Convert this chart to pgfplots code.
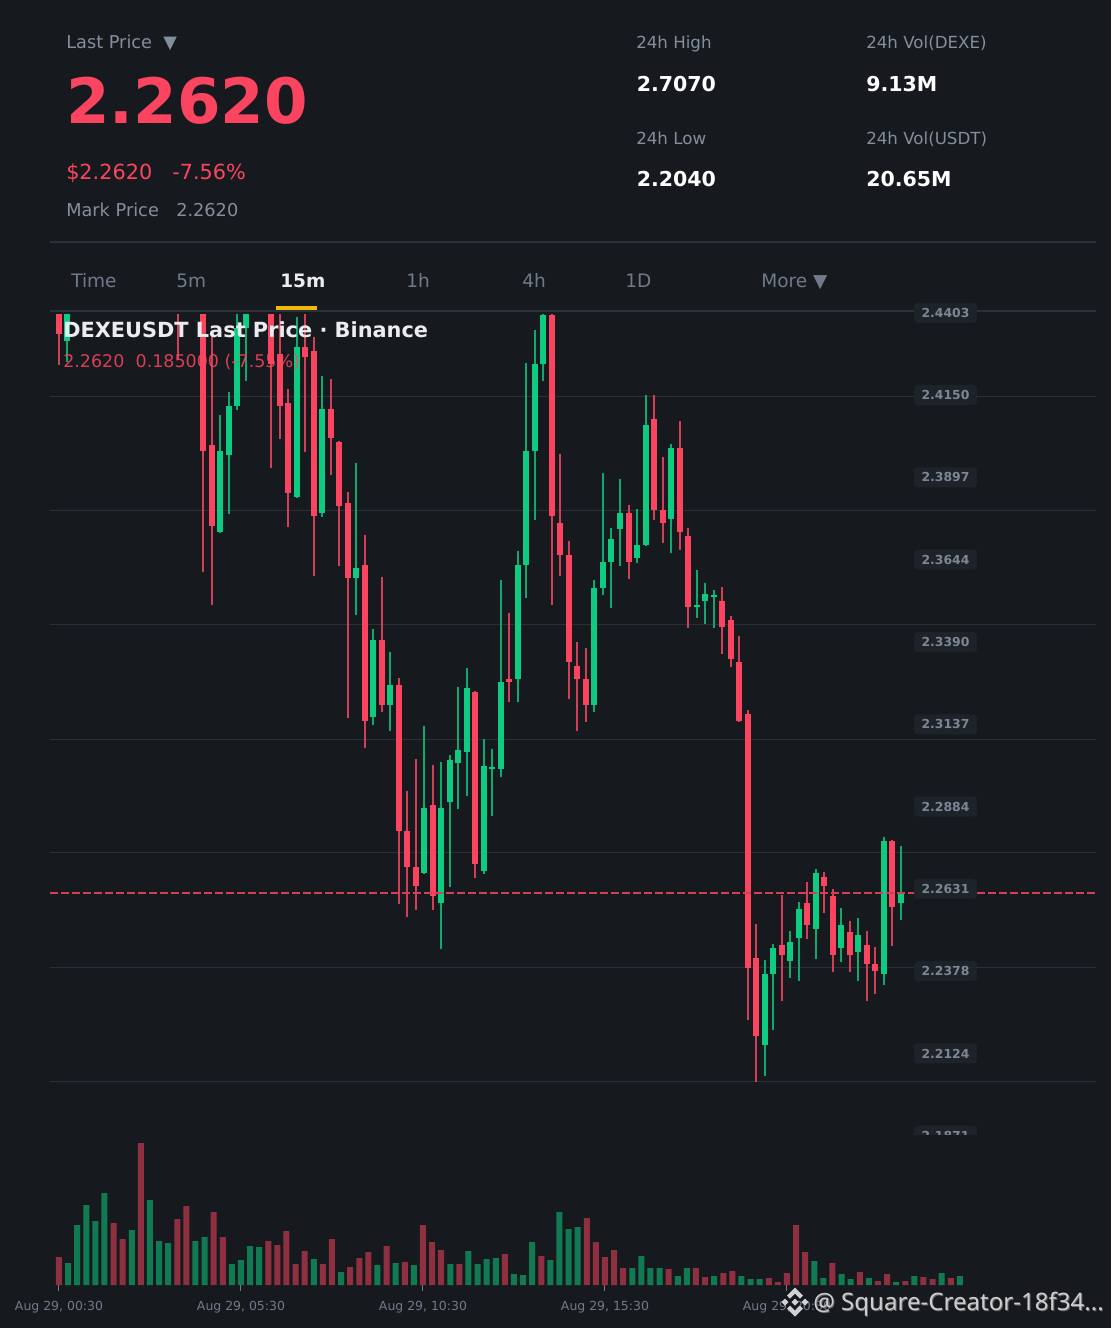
\documentclass[border=0pt]{standalone}
\usepackage{pgfplots}
\usepackage{fontspec}
\setmainfont{DejaVu Sans}
\newfontfamily\wmfont{Noto Sans}
\pgfplotsset{compat=1.18}
\definecolor{bg}{HTML}{161A1E}
\definecolor{gridc}{HTML}{2B2F36}
\definecolor{sep}{HTML}{2B3139}
\definecolor{redc}{HTML}{FB4560}
\definecolor{grnc}{HTML}{0ECB81}
\definecolor{redw}{HTML}{D23F57}
\definecolor{grnw}{HTML}{0FA86D}
\definecolor{redv}{HTML}{8F3041}
\definecolor{grnv}{HTML}{127A52}
\definecolor{gray1}{HTML}{848E9C}
\definecolor{gray2}{HTML}{707A8A}
\definecolor{gray3}{HTML}{7D8694}
\definecolor{labbg}{HTML}{1E2329}
\definecolor{white1}{HTML}{EAECEF}
\definecolor{gold}{HTML}{F0B90B}
\newcommand{\fs}[1]{\fontsize{#1}{#1}\selectfont}
\pgfplotsset{
 wickG/.style={grnw,line width=1.5pt,line cap=butt,mark=none},
 wickR/.style={redw,line width=1.5pt,line cap=butt,mark=none},
 bodyG/.style={grnc,line width=4.5pt,line cap=butt,mark=none},
 bodyR/.style={redc,line width=4.5pt,line cap=butt,mark=none},
 gridl/.style={gridc,line width=0.75pt,mark=none},
}
% index, open, high, low, close
\newcommand{\up}[5]{\addplot[wickG] coordinates {(#1,#4)(#1,#3)};\addplot[bodyG] coordinates {(#1,#2)(#1,#5)};}
\newcommand{\dn}[5]{\addplot[wickR] coordinates {(#1,#4)(#1,#3)};\addplot[bodyR] coordinates {(#1,#2)(#1,#5)};}
\newcommand{\gl}[1]{\addplot[gridl] coordinates {(-1.02,#1)(121.97,#1)};}
\newcommand{\gs}[1]{\addplot[gridl] coordinates {(-1.02,#1)(100.6,#1)};\addplot[gridl] coordinates {(107.9,#1)(121.97,#1)};}
\begin{document}
\begin{tikzpicture}[x=0.75pt,y=-0.75pt]
\path[use as bounding box,fill=bg] (0,0) rectangle (1111,1328);
\draw[sep,line width=1.5pt] (50,311)--(1096,311);
% ---------- candles
\begin{axis}[
 at={(37.5pt,-852.75pt)},anchor=south west,scale only axis,
 width=784.5pt,height=619.5pt,
 xmin=-1.02,xmax=121.97,ymin=2.18669,ymax=2.4409,
 axis line style={draw=none},xtick=\empty,
 ytick={2.1871,2.2124,2.2378,2.2631,2.2884,2.3137,2.3390,2.3644,2.3897,2.4150,2.4403},
 yticklabels={2.1871,2.2124,2.2378,2.2631,2.2884,2.3137,2.3390,2.3644,2.3897,2.4150,2.4403},
 yticklabel pos=right,
 major tick length=0pt,
 y tick label style={anchor=center,xshift=-112.9pt,font=\bfseries\fs{9.3},text=gray3,fill=labbg,rounded corners=2.5pt,inner sep=0pt,minimum width=47.25pt,minimum height=15pt},
]
\gs{2.4147}\gl{2.3795}\gl{2.3444}\gl{2.3091}\gl{2.2741}\gs{2.2389}\gl{2.2037}
\dn{0}{2.4400}{2.4400}{2.4243}{2.4338}
\up{1}{2.4317}{2.4400}{2.4252}{2.4400}
\dn{14}{2.4400}{2.4400}{2.4258}{2.4400}
\dn{17}{2.4400}{2.4400}{2.3606}{2.3978}
\dn{18}{2.3997}{2.4341}{2.3504}{2.3747}
\up{19}{2.3729}{2.4089}{2.3726}{2.3978}
\up{20}{2.3966}{2.4160}{2.3784}{2.4117}
\up{21}{2.4117}{2.4400}{2.4104}{2.4357}
\up{22}{2.4357}{2.4400}{2.4194}{2.4400}
\dn{25}{2.4400}{2.4400}{2.3926}{2.4246}
\dn{26}{2.4277}{2.4400}{2.4015}{2.4117}
\dn{27}{2.4126}{2.4169}{2.3744}{2.3849}
\up{28}{2.3837}{2.4391}{2.3834}{2.4298}
\dn{29}{2.4298}{2.4400}{2.3975}{2.4268}
\dn{30}{2.4286}{2.4329}{2.3594}{2.3778}
\up{31}{2.3787}{2.4209}{2.3775}{2.4108}
\dn{32}{2.4108}{2.4200}{2.3904}{2.4018}
\dn{33}{2.4006}{2.4009}{2.3624}{2.3809}
\dn{34}{2.3818}{2.3852}{2.3157}{2.3587}
\up{35}{2.3587}{2.3941}{2.3474}{2.3618}
\dn{36}{2.3627}{2.3720}{2.3064}{2.3147}
\up{37}{2.3160}{2.3430}{2.3135}{2.3397}
\dn{38}{2.3397}{2.3590}{2.3175}{2.3197}
\up{39}{2.3197}{2.3360}{2.3117}{2.3258}
\dn{40}{2.3258}{2.3280}{2.2584}{2.2809}
\dn{41}{2.2809}{2.2932}{2.2544}{2.2698}
\dn{42}{2.2698}{2.3030}{2.2566}{2.2639}
\up{43}{2.2679}{2.3132}{2.2676}{2.2880}
\dn{44}{2.2889}{2.3012}{2.2566}{2.2609}
\up{45}{2.2587}{2.3021}{2.2445}{2.2880}
\up{46}{2.2898}{2.3043}{2.2636}{2.3027}
\up{47}{2.3018}{2.3252}{2.2876}{2.3058}
\up{48}{2.3052}{2.3310}{2.2916}{2.3249}
\dn{49}{2.3237}{2.3240}{2.2664}{2.2707}
\up{50}{2.2686}{2.3092}{2.2676}{2.3009}
\up{51}{2.3000}{2.3061}{2.2855}{2.3006}
\up{52}{2.3000}{2.3581}{2.2975}{2.3267}
\dn{53}{2.3277}{2.3480}{2.3206}{2.3267}
\up{54}{2.3277}{2.3670}{2.3206}{2.3627}
\up{55}{2.3627}{2.4249}{2.3526}{2.3978}
\up{56}{2.3978}{2.4351}{2.3766}{2.4246}
\up{57}{2.4246}{2.4400}{2.4194}{2.4397}
\dn{58}{2.4397}{2.4400}{2.3504}{2.3778}
\dn{59}{2.3757}{2.3969}{2.3594}{2.3658}
\dn{60}{2.3658}{2.3701}{2.3215}{2.3329}
\dn{61}{2.3317}{2.3391}{2.3117}{2.3277}
\dn{62}{2.3277}{2.3372}{2.3144}{2.3197}
\up{63}{2.3197}{2.3581}{2.3175}{2.3557}
\up{64}{2.3557}{2.3910}{2.3535}{2.3637}
\up{65}{2.3637}{2.3741}{2.3495}{2.3707}
\up{66}{2.3738}{2.3892}{2.3624}{2.3787}
\dn{67}{2.3787}{2.3812}{2.3584}{2.3637}
\up{68}{2.3649}{2.3800}{2.3633}{2.3689}
\up{69}{2.3689}{2.4151}{2.3686}{2.4058}
\dn{70}{2.4077}{2.4151}{2.3766}{2.3797}
\dn{71}{2.3797}{2.3960}{2.3695}{2.3757}
\up{72}{2.3769}{2.4000}{2.3664}{2.3987}
\dn{73}{2.3987}{2.4071}{2.3673}{2.3729}
\dn{74}{2.3717}{2.3741}{2.3434}{2.3498}
\up{75}{2.3498}{2.3612}{2.3464}{2.3504}
\up{76}{2.3517}{2.3572}{2.3446}{2.3538}
\up{77}{2.3529}{2.3550}{2.3434}{2.3535}
\dn{78}{2.3517}{2.3560}{2.3354}{2.3437}
\dn{79}{2.3458}{2.3470}{2.3314}{2.3338}
\dn{80}{2.3329}{2.3410}{2.3144}{2.3147}
\dn{81}{2.3169}{2.3181}{2.2227}{2.2387}
\dn{82}{2.2418}{2.2522}{2.2036}{2.2178}
\up{83}{2.2150}{2.2412}{2.2054}{2.2369}
\up{84}{2.2369}{2.2461}{2.2196}{2.2449}
\dn{85}{2.2458}{2.2612}{2.2285}{2.2427}
\up{86}{2.2409}{2.2501}{2.2356}{2.2467}
\up{87}{2.2479}{2.2590}{2.2347}{2.2569}
\dn{88}{2.2587}{2.2652}{2.2476}{2.2519}
\up{89}{2.2507}{2.2691}{2.2415}{2.2679}
\dn{90}{2.2667}{2.2682}{2.2556}{2.2639}
\dn{91}{2.2609}{2.2630}{2.2375}{2.2427}
\up{92}{2.2449}{2.2572}{2.2406}{2.2519}
\dn{93}{2.2498}{2.2532}{2.2375}{2.2427}
\up{94}{2.2437}{2.2541}{2.2347}{2.2489}
\dn{95}{2.2458}{2.2501}{2.2285}{2.2400}
\dn{96}{2.2400}{2.2452}{2.2307}{2.2378}
\up{97}{2.2369}{2.2790}{2.2335}{2.2778}
\dn{98}{2.2778}{2.2781}{2.2455}{2.2575}
\up{99}{2.2587}{2.2763}{2.2535}{2.2618}
\addplot[redw,line width=1.5pt,dash pattern=on 6pt off 2.25pt,mark=none] coordinates {(-1.02,2.2618)(100.53,2.2618)};
\addplot[redw,line width=1.5pt,dash pattern=on 6pt off 2.25pt,mark=none] coordinates {(107.94,2.2618)(121.97,2.2618)};
\end{axis}
% ---------- volume
\begin{axis}[
 at={(37.5pt,-963.75pt)},anchor=south west,scale only axis,
 width=784.5pt,height=112.5pt,
 xmin=-0.989,xmax=113.96,ymin=0,ymax=150,
 axis line style={draw=none},
 axis background/.style={fill=bg},
 ytick=\empty,
 xtick={0,20,40,60,80},
 xticklabels={{Aug 29, 00:30},{Aug 29, 05:30},{Aug 29, 10:30},{Aug 29, 15:30},{Aug 29, 20:30}},
 tick align=outside,xtick pos=bottom,
 major tick length=4.5pt,
 tick style={gray2,line width=0.75pt},
 x tick label style={font=\fs{9.35},text=gray2,yshift=-4pt},
 clip=false,
]
\addplot[ybar,bar width=4.5pt,bar shift=0pt,fill=grnv,draw=none] coordinates {
(1,22)(2,60)(3,80)(4,64)(5,92)(8,55)(10,85)(11,44)(12,42)(15,44)(16,48)(19,21)(20,25)(21,39)(22,38)(28,26)(31,13)
(35,20)(37,22)(39,20)(43,21)(45,34)(46,21)(47,26)(48,27)(50,11)(51,10)(52,43)(54,25)(55,73)(56,56)(57,58)(63,17)(64,29)(65,17)(66,17)(68,9)(69,17)
(72,9)(75,9)(76,6)(77,6)(83,24)(84,7)(86,11)(87,6)(89,7)(92,3)(94,9)(97,12)(99,9)};
\addplot[ybar,bar width=4.5pt,bar shift=0pt,fill=redv,draw=none] coordinates {
(0,28)(6,62)(7,46)(9,142)(13,66)(14,79)(17,73)(18,48)(23,44)(24,40)(25,54)(26,21)(27,34)(29,21)(30,46)(32,18)(33,27)(34,33)
(36,39)(38,23)(40,60)(41,43)(42,35)(44,21)(49,31)(53,29)(58,67)(59,43)(60,28)(61,35)(62,17)(67,16)(70,17)
(71,8)(73,12)(74,14)(78,7)(79,3)(80,12)(81,60)(82,33)(85,22)(88,13)(90,4)(91,11)(93,4)(95,8)(96,6)(98,7)};
\end{axis}
% ---------- header
\tikzset{t/.style={anchor=base west,inner sep=0pt}}
\node[t,text=gray1,font=\fs{13.3}] at (66,48) {Last Price};
\node[t,text=gray1,font=\fs{13.3}] at (163,48) {▼};
\node[t,text=redc,font=\bfseries\fs{46.9}] at (66,123) {2.2620};
\node[t,text=redc,font=\fs{15.6}] at (66,179) {\$2.2620};
\node[t,text=redc,font=\fs{15.6}] at (172,179) {-7.56\%};
\node[t,text=gray1,font=\fs{13.3}] at (66,216) {Mark Price};
\node[t,text=gray1,font=\fs{13.3}] at (176,216) {2.2620};
\node[t,text=gray1,font=\fs{12.5}] at (636,48) {24h High};
\node[t,text=gray1,font=\fs{12.5}] at (866,48) {24h Vol(DEXE)};
\node[t,text=gray1,font=\fs{12.5}] at (636,144) {24h Low};
\node[t,text=gray1,font=\fs{12.5}] at (866,144) {24h Vol(USDT)};
\node[t,text=white,font=\bfseries\fs{15.4}] at (636.5,91) {2.7070};
\node[t,text=white,font=\bfseries\fs{15.4}] at (866,91) {9.13M};
\node[t,text=white,font=\bfseries\fs{15.4}] at (636.5,186) {2.2040};
\node[t,text=white,font=\bfseries\fs{15.4}] at (866,186) {20.65M};
\draw[sep,line width=1.5pt] (50,242)--(1096,242);
\node[t,text=gray2,font=\fs{13.9}] at (71,287) {Time};
\node[t,text=gray2,font=\fs{13.9}] at (176,287) {5m};
\node[t,text=white1,font=\bfseries\fs{13.9}] at (280,287) {15m};
\node[t,text=gray2,font=\fs{13.9}] at (406,287) {1h};
\node[t,text=gray2,font=\fs{13.9}] at (522,287) {4h};
\node[t,text=gray2,font=\fs{13.9}] at (625,287) {1D};
\node[t,text=gray2,font=\fs{13.9}] at (761,287) {More ▼};
\fill[gold] (276,306) rectangle (317,310);
\node[t,text=white1,font=\bfseries\fs{15.65}] at (63,337) {DEXEUSDT Last Price · Binance};
\node[t,text=redc,text opacity=0.85,font=\fs{13.1}] at (63,367) {2.2620\hspace{8.5pt}0.185000 (-7.55\%)};
% ---------- watermark
\begin{scope}[shift={(795,1302)}]
 \fill[white!80!bg] (0,-14.5)--(8,-6.5)--(5,-3.5)--(0,-8.5)--(-5,-3.5)--(-8,-6.5)--cycle;
 \fill[white!80!bg] (0,14.5)--(8,6.5)--(5,3.5)--(0,8.5)--(-5,3.5)--(-8,6.5)--cycle;
 \fill[white!80!bg] (-13.5,0)--(-10,-3.5)--(-6.5,0)--(-10,3.5)--cycle;
 \fill[white!80!bg] (13.5,0)--(10,-3.5)--(6.5,0)--(10,3.5)--cycle;
 \fill[white!80!bg] (0,-3.5)--(3.5,0)--(0,3.5)--(-3.5,0)--cycle;
\end{scope}
\node[t,text=black!60,font=\wmfont\fs{18.05}] at (814,1311) {@ Square-Creator-18f34...};
\node[t,text=white!78!bg,font=\wmfont\fs{18.05}] at (813,1310) {@ Square-Creator-18f34...};
\end{tikzpicture}
\end{document}
